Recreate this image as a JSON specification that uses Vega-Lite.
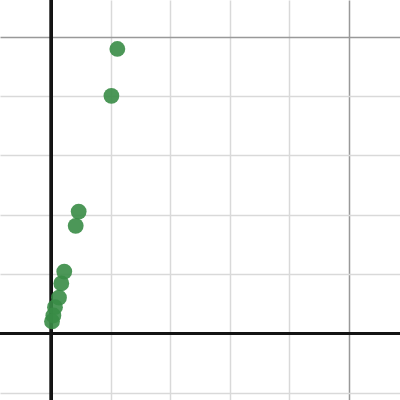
{
  "$schema": "https://vega.github.io/schema/vega-lite/v6.json",
  "width": 400,
  "height": 400,
  "autosize": {"type": "none"},
  "padding": 0,
  "background": "white",
  "config": {"view": {"stroke": null}},
  "data": {
    "values": [
      {"x": 1.11, "y": 4.79},
      {"x": 1.01, "y": 4.0},
      {"x": 0.46, "y": 2.05},
      {"x": 0.41, "y": 1.81},
      {"x": 0.218, "y": 1.04},
      {"x": 0.168, "y": 0.84},
      {"x": 0.129, "y": 0.6},
      {"x": 0.062, "y": 0.44},
      {"x": 0.035, "y": 0.3},
      {"x": 0.012, "y": 0.2}
    ]
  },
  "encoding": {
    "x": {
      "field": "x",
      "type": "quantitative",
      "scale": {"domain": [-0.862, 5.86], "nice": false, "zero": false},
      "axis": {
        "title": null,
        "labels": false,
        "ticks": false,
        "domain": false,
        "values": [-1, 1, 2, 3, 4, 5, 6],
        "gridWidth": 1.5,
        "gridColor": {"condition": {"test": "datum.value % 5 === 0", "value": "#999999"}, "value": "#d9d9d9"}
      }
    },
    "y": {
      "field": "y",
      "type": "quantitative",
      "scale": {"domain": [-1.124, 5.615], "nice": false, "zero": false},
      "axis": {
        "title": null,
        "labels": false,
        "ticks": false,
        "domain": false,
        "values": [-1, 1, 2, 3, 4, 5, 6],
        "gridWidth": 1.5,
        "gridColor": {"condition": {"test": "datum.value % 5 === 0", "value": "#999999"}, "value": "#d9d9d9"}
      }
    }
  },
  "layer": [
    {
      "mark": {"type": "rule", "color": "#141414", "strokeWidth": 2.8},
      "encoding": {"x": {"datum": 0}, "y": null}
    },
    {
      "mark": {"type": "rule", "color": "#141414", "strokeWidth": 2.8},
      "encoding": {"y": {"datum": 0}, "x": null}
    },
    {
      "mark": {"type": "circle", "size": 250, "color": "#388c46", "opacity": 0.9}
    }
  ]
}
